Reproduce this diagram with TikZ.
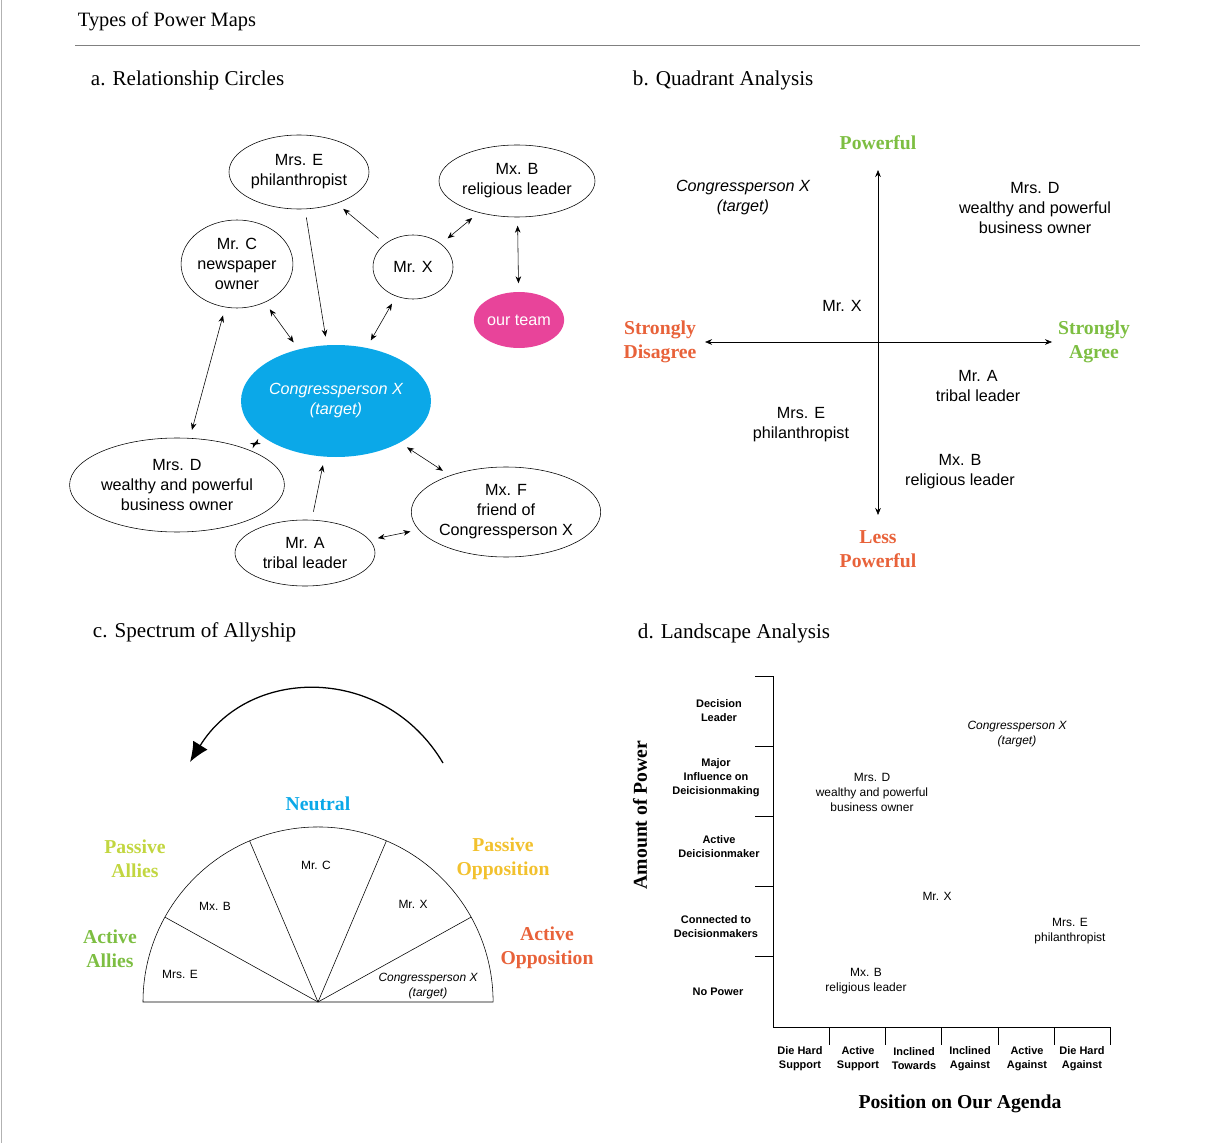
\documentclass[tikz,border=0pt]{standalone}
\usepackage{fontspec}
\setmainfont{Liberation Serif}
\newfontfamily\lab{Liberation Sans}
\usetikzlibrary{arrows.meta,positioning,shapes.geometric}
\definecolor{cyanx}{HTML}{0BA8E8}
\definecolor{pinkx}{HTML}{E8449A}
\definecolor{greenx}{HTML}{7DBE42}
\definecolor{limex}{HTML}{C2D640}
\definecolor{yellowx}{HTML}{F2C12E}
\definecolor{orangex}{HTML}{E8623A}
\tikzset{
	>={Stealth[length=5pt,width=4pt]},
}
\begin{document}
\begin{tikzpicture}[x=0.025cm,y=-0.025cm,
person/.style = {ellipse, draw, align=center, font=\lab\fontsize{11.5}{14.2}\selectfont, inner sep=0},
sz/.style 2 args = {minimum width=#1*0.025cm, minimum height=#2*0.025cm},
link/.style = {<->, shorten >=6pt, shorten <=6pt},
head/.style = {anchor=west, font=\fontsize{15}{18}\selectfont},
big/.style = {align=center, font=\bfseries\fontsize{14}{17}\selectfont},
who/.style = {align=center, font=\lab\fontsize{11.5}{14.2}\selectfont},
tiny/.style = {align=center, font=\lab\fontsize{8.5}{10.7}\selectfont},
tick/.style = {align=center, font=\lab\bfseries\fontsize{7.8}{10}\selectfont}]
\useasboundingbox (0,0) rectangle (1219,1143);
\draw[gray!60] (1,0) -- (1,1143);
\node[anchor=west, font=\fontsize{14.5}{17}\selectfont] (title) at (73,22) {Types of Power Maps};
\draw[gray] (75,45) -- (1140,45);
% a. relationship circles
\node[head] (ha) at (86,80) {a. Relationship Circles};
\node[person, sz={140}{74}] (mrse) at (299,172) {Mrs. E\\philanthropist};
\node[person, sz={156}{72}] (mxb) at (517,181) {Mx. B\\religious leader};
\node[person, sz={110}{88}] (mrc) at (237,264) {Mr. C\\newspaper\\owner};
\node[person, sz={80}{64}] (mrx) at (413,267) {Mr. X};
\node[person, draw=none, fill=pinkx, text=white, sz={88}{56}] (team) at (519,320) {our team};
\node[person, draw=none, fill=cyanx, text=white, sz={190}{112}, font=\lab\itshape\fontsize{11.5}{14.2}\selectfont] (cong) at (336,401) {Congressperson X\\(target)};
\node[person, sz={200}{94}] (mrsd) at (177,485) {Mrs. D\\wealthy and powerful\\business owner};
\node[person, sz={174}{90}] (mxf) at (506,512) {Mx. F\\friend of\\Congressperson X};
\node[person, sz={140}{66}] (mra) at (305,553) {Mr. A\\tribal leader};
\draw[link] (mxb) -- (team);
\draw[link, <-] (mrse) -- (mrx);
\draw[link] (mrx) -- (mxb);
\draw[link, ->] (mrse) -- (cong);
\draw[link] (mrx) -- (cong);
\draw[link] (mrc) -- (cong);
\draw[link] (mrc) -- (mrsd);
\draw[link] (mrsd) -- (cong);
\draw[link, ->] (mra) -- (cong);
\draw[link] (cong) -- (mxf);
\draw[link] (mra) -- (mxf);
% b. quadrant analysis
\node[head] (hb) at (628,80) {b. Quadrant Analysis};
\coordinate (qn) at (878,170);
\coordinate (qs) at (878,515);
\coordinate (qw) at (705,342);
\coordinate (qe) at (1052,342);
\draw[<->] (qn) -- (qs);
\draw[<->] (qw) -- (qe);
\node[big, text=greenx] (pow) at (878,143) {Powerful};
\node[big, text=orangex] (less) at (878,549) {Less\\Powerful};
\node[big, text=orangex] (disag) at (660,342) {Strongly\\Disagree};
\node[big, text=greenx] (agree) at (1094,342) {Strongly\\Agree};
\node[who, font=\lab\itshape\fontsize{11.5}{14.2}\selectfont] (qcong) at (743,198) {Congressperson X\\(target)};
\node[who] (qd) at (1035,208) {Mrs. D\\wealthy and powerful\\business owner};
\node[who] (qx) at (842,306) {Mr. X};
\node[who] (qa) at (978,386) {Mr. A\\tribal leader};
\node[who] (qe2) at (801,425) {Mrs. E\\philanthropist};
\node[who] (qb) at (960,472) {Mx. B\\religious leader};
% c. spectrum of allyship
\node[head] (hc) at (88,632) {c. Spectrum of Allyship};
\coordinate (o) at (318,1002);
\draw (143,1002) arc[start angle=180, end angle=0, radius=4.375cm] -- cycle;
\foreach \a in {151,113,67,29}
	\draw (o) -- ++(\a:4.375cm);
\coordinate (turn1) at (443,763);
\coordinate (turn2) at (190,762);
\draw[-{Latex[length=14pt,width=12pt]}, line width=0.9pt] (turn1) .. controls (385,665) and (250,665) .. (turn2);
\node[big, text=cyanx] (neu) at (318,804) {Neutral};
\node[big, text=limex] (pall) at (135,859) {Passive\\Allies};
\node[big, text=greenx] (aall) at (110,949) {Active\\Allies};
\node[big, text=yellowx] (popp) at (503,859) {Passive\\Opposition};
\node[big, text=orangex] (aopp) at (547,948) {Active\\Opposition};
\node[tiny] (cc) at (316,865) {Mr. C};
\node[tiny] (cb) at (215,906) {Mx. B};
\node[tiny] (cx) at (413,904) {Mr. X};
\node[tiny] (ce) at (180,974) {Mrs. E};
\node[tiny, font=\lab\itshape\fontsize{8.5}{10.7}\selectfont] (ccong) at (428,986) {Congressperson X\\(target)};
% d. landscape analysis
\node[head] (hd) at (633,633) {d. Landscape Analysis};
\coordinate (top) at (773,676);
\coordinate (org) at (773,1027);
\coordinate (right) at (1110,1027);
\draw (top) -- (org) -- (right);
\foreach \y in {676,746,816,886,956}
	\draw (755,\y) -- (773,\y);
\foreach \x in {829,885,941,998,1054,1110}
	\draw (\x,1027) -- (\x,1045);
\node[tick] (l1) at (719,711) {Decision\\Leader};
\node[tick] (l2) at (716,778) {Major\\Influence on\\Deicisionmaking};
\node[tick] (l3) at (719,847) {Active\\Deicisionmaker};
\node[tick] (l4) at (716,927) {Connected to\\Decisionmakers};
\node[tick] (l5) at (718,992) {No Power};
\foreach \x/\t [count=\i] in {800/Die Hard\\Support, 858/Active\\Support, 914/Inclined\\Towards, 970/Inclined\\Against, 1027/Active\\Against, 1082/Die Hard\\Against}
	\node[tick] (b\i) at (\x,1059) {\t};
\node[rotate=90, font=\bfseries\fontsize{14}{17}\selectfont] (amount) at (640,815) {Amount of Power};
\node[font=\bfseries\fontsize{14}{17}\selectfont] (pos) at (960,1104) {Position on Our Agenda};
\node[tiny, font=\lab\itshape\fontsize{8.5}{10.7}\selectfont] (dcong) at (1017,734) {Congressperson X\\(target)};
\node[tiny] (dd) at (872,792) {Mrs. D\\wealthy and powerful\\business owner};
\node[tiny] (dx) at (937,896) {Mr. X};
\node[tiny] (de) at (1070,931) {Mrs. E\\philanthropist};
\node[tiny] (db) at (866,981) {Mx. B\\religious leader};
\end{tikzpicture}
\end{document}
